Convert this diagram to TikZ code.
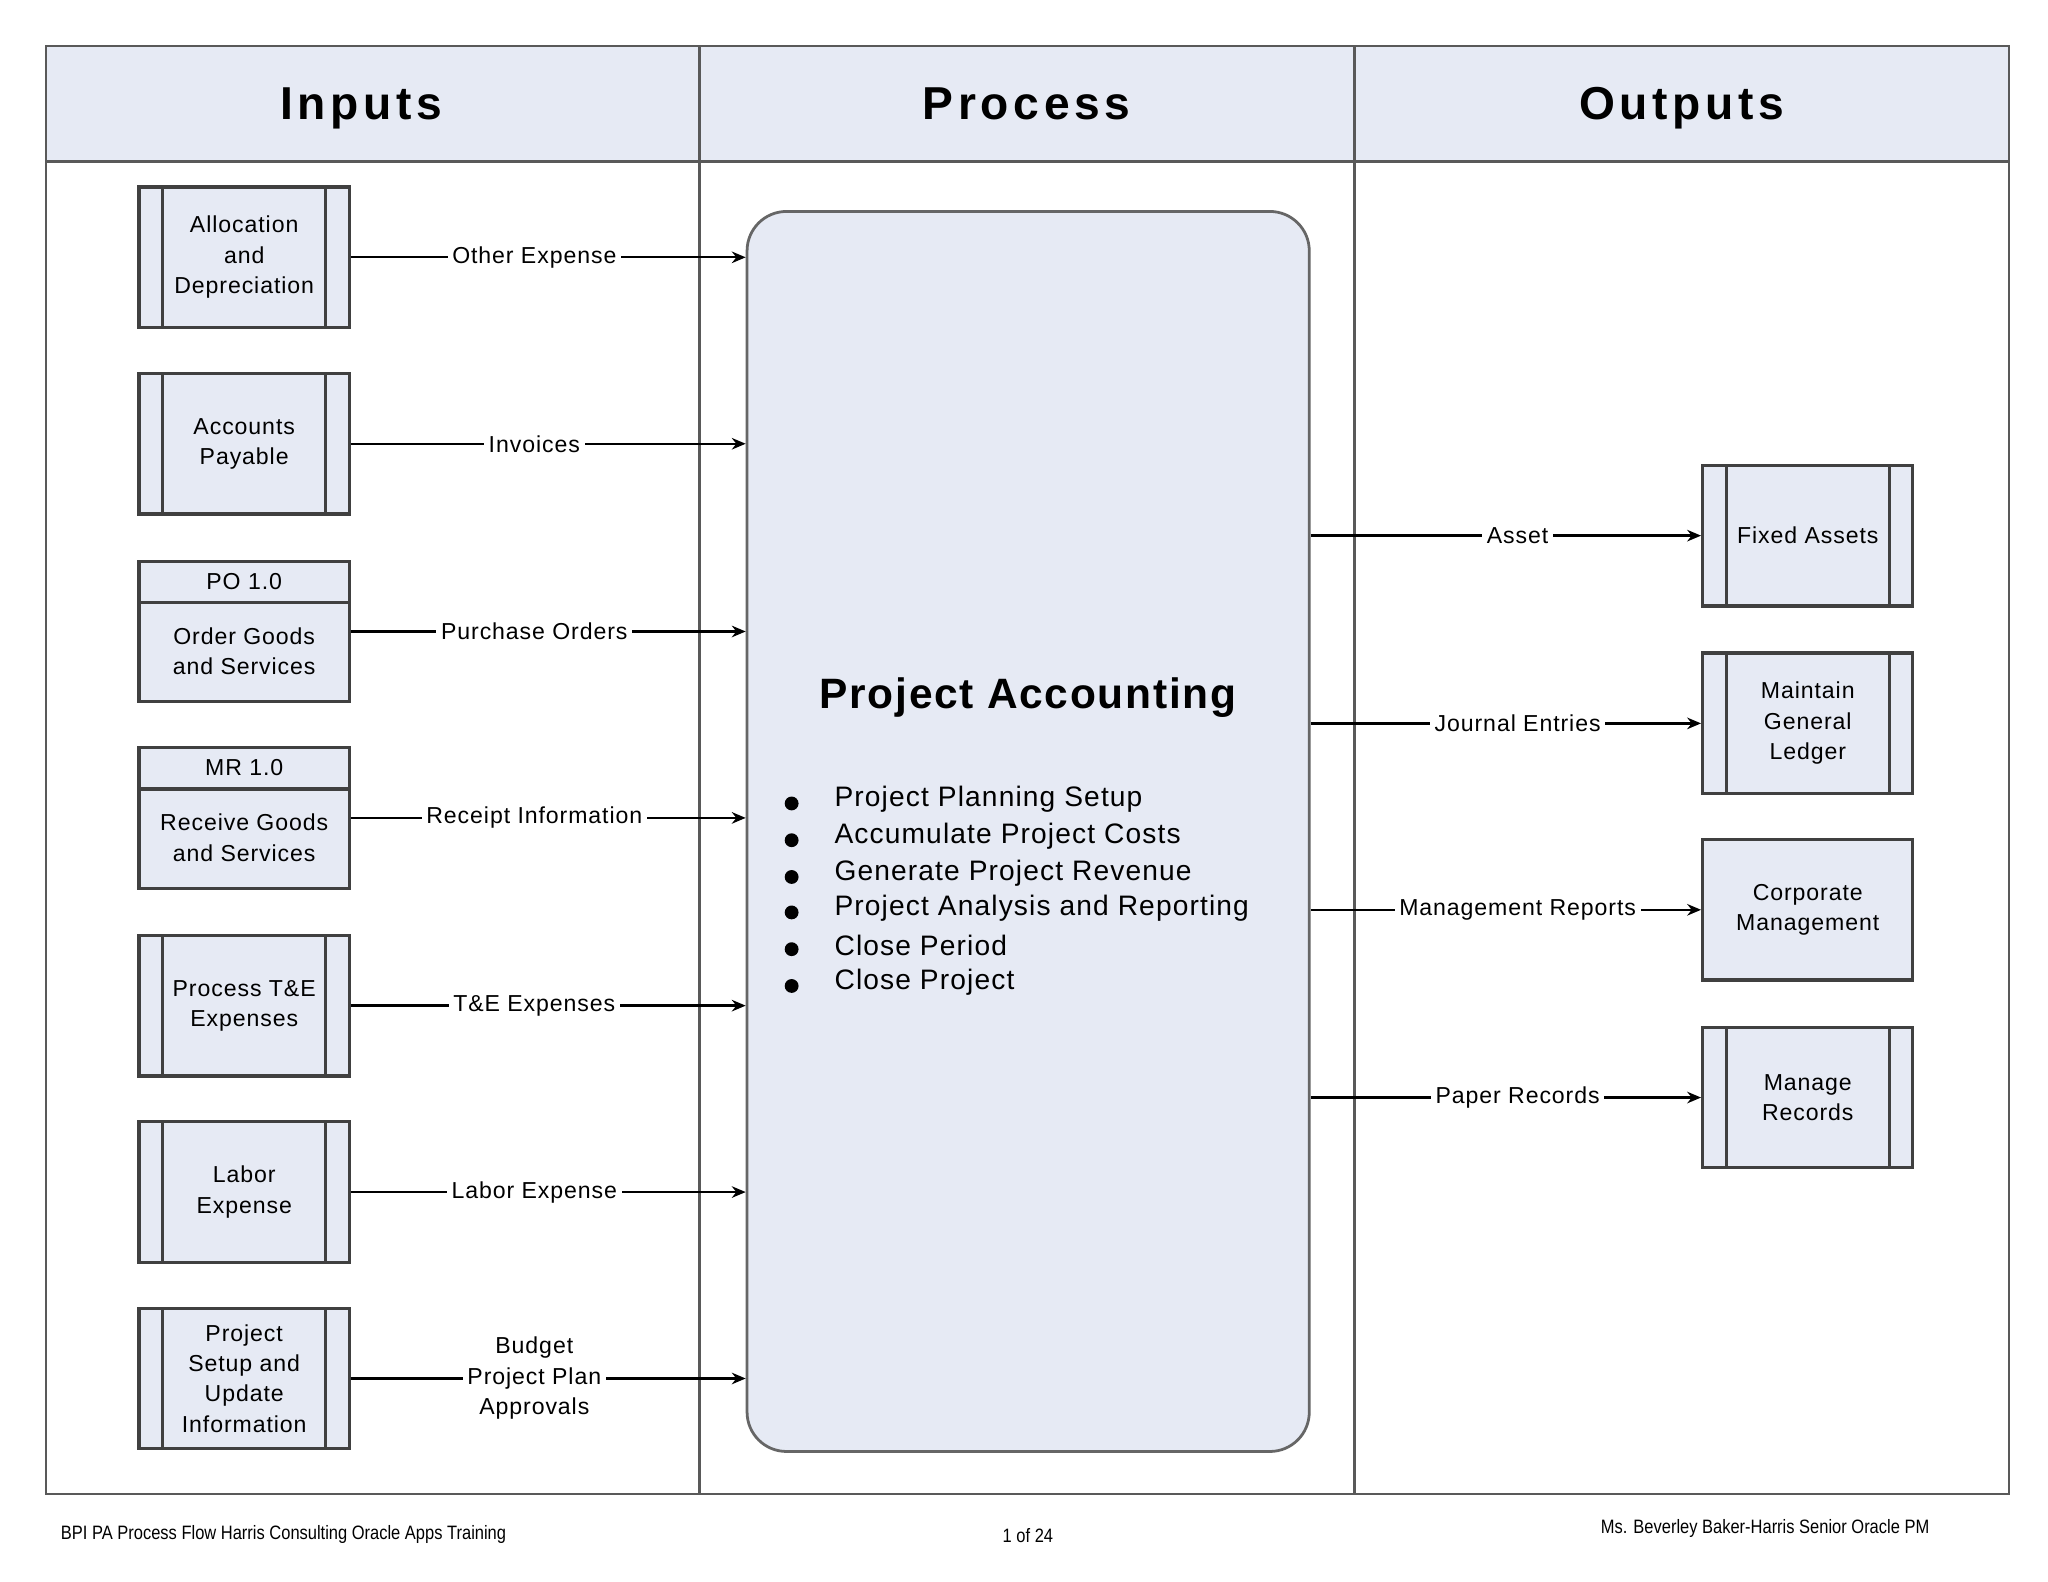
\documentclass[tikz,border=0pt]{standalone}
\usepackage{fontspec}
\setmainfont{Liberation Sans}[LetterSpace=4]
\usetikzlibrary{arrows.meta}
\definecolor{hdr}{HTML}{E6EAF4}
\definecolor{bx}{HTML}{E6EAF4}
\definecolor{edge}{HTML}{404040}
\begin{document}
\begin{tikzpicture}[x=0.01cm,y=-0.01cm,
  fs/.style={font=\fontsize{5}{6.6}\selectfont},
  pp/.style={draw=edge,line width=0.7pt,fill=bx,minimum width=1.6cm,minimum height=1.07cm,align=center,fs,inner sep=0pt,
    path picture={\draw[edge,line width=0.7pt] ([xshift=0.18cm]path picture bounding box.north west)--([xshift=0.18cm]path picture bounding box.south west);
      \draw[edge,line width=0.7pt] ([xshift=-0.18cm]path picture bounding box.north east)--([xshift=-0.18cm]path picture bounding box.south east);}},
  pb/.style={draw=edge,line width=0.7pt,fill=bx,minimum width=1.6cm,minimum height=1.07cm,align=center,fs,inner sep=0pt},
  lab/.style={fill=white,inner sep=1pt,align=center,fs},
  arr/.style={line width=0.5pt,-{Stealth[length=3pt,width=2.5pt]}},
  hd/.style={anchor=base,font=\fontsize{10}{12}\bfseries\addfontfeatures{LetterSpace=10}}]
\useasboundingbox (0,0) rectangle (1560,1205);
\fill[white] (0,0) rectangle (1560,1205);
% table
\fill[hdr] (35,35) rectangle (1530,123);
\draw[gray!70!black,line width=0.4pt] (35,35) rectangle (1530,1138);
\draw[gray!70!black,line width=0.8pt] (35,123) -- (1530,123);
\draw[gray!70!black,line width=0.6pt] (533,35) -- (533,1138) (1032,35) -- (1032,1138);
\node[hd] (h1) at (275,91) {Inputs};
\node[hd] (h2) at (782,91) {Process};
\node[hd] (h3) at (1281,91) {Outputs};
% center
\node[draw=gray!80!black,line width=0.6pt,rounded corners=0.3cm,fill=bx,minimum width=4.28cm,minimum height=9.44cm,anchor=north west] (pa) at (568,160) {};
\node[font=\fontsize{9.2}{11}\bfseries\addfontfeatures{LetterSpace=4}] (t) at (783,531) {Project Accounting};
\foreach \yy/\tt [count=\i] in {609/Project Planning Setup,637/Accumulate Project Costs,665/Generate Project Revenue,692/Project Analysis and Reporting,720/Close Period,748/Close Project}{
  \node[circle,fill=black,inner sep=0pt,minimum size=3pt] (b\i) at (603,\yy+3) {};
  \node[anchor=west,font=\fontsize{6.1}{8}\selectfont,inner sep=0pt] (bt\i) at (635,\yy) {\tt};
}
% left
\node[pp] (l1) at (186,196) {Allocation\\and\\Depreciation};
\node[pp] (l2) at (186,338) {Accounts\\Payable};
\node[pb] (l3) at (186,481) {};
\draw[edge,line width=0.7pt] (l3.west|-0,459) -- (l3.east|-0,459);
\node[fs] (l3a) at (186,443) {PO 1.0};
\node[align=center,fs] (l3b) at (186,496) {Order Goods\\and Services};
\node[pb] (l4) at (186,623) {};
\draw[edge,line width=0.7pt] (l4.west|-0,601) -- (l4.east|-0,601);
\node[fs] (l4a) at (186,585) {MR 1.0};
\node[align=center,fs] (l4b) at (186,638) {Receive Goods\\and Services};
\node[pp] (l5) at (186,766) {Process T\&E\\Expenses};
\node[pp] (l6) at (186,908) {Labor\\Expense};
\node[pp] (l7) at (186,1050) {Project\\Setup and\\Update\\Information};
\foreach \i/\yy/\tt in {1/196/Other Expense,2/338/Invoices,3/481/Purchase Orders,4/623/Receipt Information,5/766/T\&E Expenses,6/908/Labor Expense,7/1050/{Budget\\Project Plan\\Approvals}}{
  \draw[arr] (l\i.east|-0,\yy) -- (pa.west|-0,\yy);
  \node[lab] (la\i) at (407,\yy) {\tt};
}
% right
\node[pp] (r1) at (1377,408) {Fixed Assets};
\node[pp] (r2) at (1377,551) {Maintain\\General\\Ledger};
\node[pb] (r3) at (1377,693) {Corporate\\Management};
\node[pp] (r4) at (1377,836) {Manage\\Records};
\foreach \i/\yy/\tt in {1/408/Asset,2/551/Journal Entries,3/693/Management Reports,4/836/Paper Records}{
  \draw[arr] (pa.east|-0,\yy) -- (r\i.west|-0,\yy);
  \node[lab] (ra\i) at (1156,\yy) {\tt};
}
% footer
\node[anchor=west,font=\fontsize{4.2}{5}\selectfont\addfontfeatures{LetterSpace=0}] (f1) at (34,1169) {\scalebox{0.85}[1]{BPI PA Process Flow Harris Consulting Oracle Apps Training}};
\node[font=\fontsize{4.2}{5}\selectfont\addfontfeatures{LetterSpace=0}] (f2) at (783,1170) {\scalebox{0.85}[1]{1 of 24}};
\node[anchor=east,font=\fontsize{4.2}{5}\selectfont\addfontfeatures{LetterSpace=0}] (f3) at (1482,1164) {\scalebox{0.85}[1]{Ms. Beverley Baker-Harris Senior Oracle PM}};
\end{tikzpicture}
\end{document}
